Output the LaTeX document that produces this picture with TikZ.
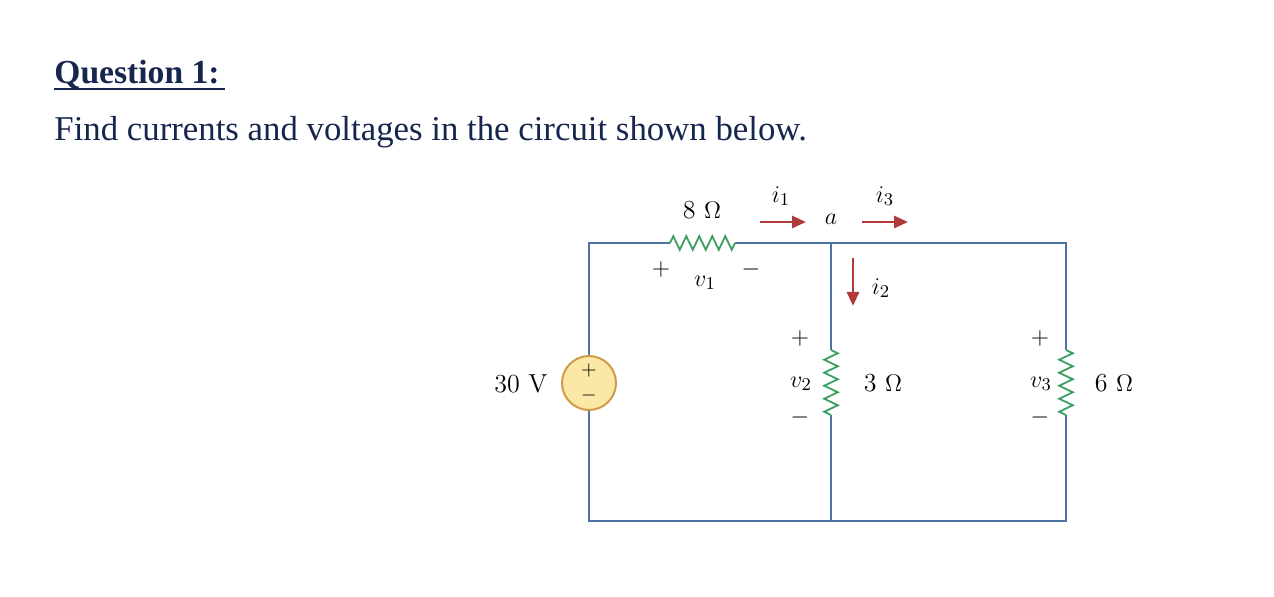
\documentclass[tikz,border=0pt]{standalone}
\usepackage{fontspec}
\setmainfont{Liberation Serif}
\newfontfamily\lmfont{Latin Modern Roman}
\usetikzlibrary{decorations.pathmorphing,arrows.meta}
\definecolor{wire}{HTML}{4F74A3}
\definecolor{res}{HTML}{3C9E62}
\definecolor{arr}{HTML}{B03A3A}
\definecolor{navy}{HTML}{17264F}
\definecolor{srcf}{HTML}{FBE7A6}
\definecolor{srcd}{HTML}{D09A48}
\tikzset{
 w/.style={draw=wire,line width=0.8pt},
 rz/.style={draw=res,line width=0.9pt,decorate,decoration={zigzag,segment length=6.5pt,amplitude=3.4pt}},
 cur/.style={draw=arr,line width=1.4pt,-{Triangle[length=7pt,width=6pt]}},
 lb/.style={font=\lmfont\fontsize{13}{15}\selectfont,inner sep=0pt},
 sg/.style={font=\lmfont\fontsize{10}{12}\selectfont,inner sep=0pt}
}
\begin{document}
\begin{tikzpicture}[x=0.5pt,y=-0.5pt]
\useasboundingbox (0,0) rectangle (1274,597);
\node[anchor=base west,inner sep=0pt,text=navy,font=\fontsize{16.8}{19}\selectfont\bfseries] (q) at (54,84) {Question 1:};
\draw[navy,line width=1pt] (54,89) -- (225,89);
\node[anchor=base west,inner sep=0pt,text=navy,font=\fontsize{17.4}{20}\selectfont] (f) at (54,141) {Find currents and voltages in the circuit shown below.};
% coordinates
\coordinate (tl) at (589,243); \coordinate (bl) at (589,521);
\coordinate (ta) at (831,243); \coordinate (bm) at (831,521);
\coordinate (tr) at (1066,243); \coordinate (br) at (1066,521);
\coordinate (r1a) at (670,243); \coordinate (r1b) at (735,243);
\coordinate (r2a) at (831,350); \coordinate (r2b) at (831,415);
\coordinate (r3a) at (1066,350); \coordinate (r3b) at (1066,415);
\node[circle,draw=srcd,fill=srcf,line width=1pt,minimum size=27pt,inner sep=0pt] (src) at (589,383) {};
\node[sg] (sp) at (589,371) {$+$};
\node[sg] (sm) at (589,396) {$-$};
% wires
\draw[w] (src.north) -- (tl) -- (r1a);
\draw[w] (r1b) -- (tr) -- (r3a);
\draw[w] (ta) -- (r2a);
\draw[w] (r2b) -- (bm);
\draw[w] (r3b) -- (br) -- (bl) -- (src.south);
% resistors
\draw[rz] (r1a) -- (r1b);
\draw[rz] (r2a) -- (r2b);
\draw[rz] (r3a) -- (r3b);
% arrows
\coordinate (i1s) at (760,222); \coordinate (i1e) at (806,222);
\coordinate (i3s) at (862,222); \coordinate (i3e) at (908,222);
\coordinate (i2s) at (853,258); \coordinate (i2e) at (853,306);
\draw[cur] (i1s) -- (i1e);
\draw[cur] (i3s) -- (i3e);
\draw[cur] (i2s) -- (i2e);
% labels
\node[lb] at (702,210) {8 $\Omega$};
\node[lb] at (781,196) {$i_1$};
\node[lb] at (831,219) {$a$};
\node[lb] at (885,196) {$i_3$};
\node[lb] at (881,288) {$i_2$};
\node[lb] at (661,270) {$+$};
\node[lb] at (705,283) {$v_1$};
\node[lb] at (751,270) {$-$};
\node[lb] at (800,339) {$+$};
\node[lb] at (801,384) {$v_2$};
\node[lb] at (800,418) {$-$};
\node[lb] at (883,383) {3 $\Omega$};
\node[lb] at (1040,339) {$+$};
\node[lb] at (1041,384) {$v_3$};
\node[lb] at (1040,418) {$-$};
\node[lb] at (1114,383) {6 $\Omega$};
\node[lb] at (521,384) {30 V};
\end{tikzpicture}
\end{document}
